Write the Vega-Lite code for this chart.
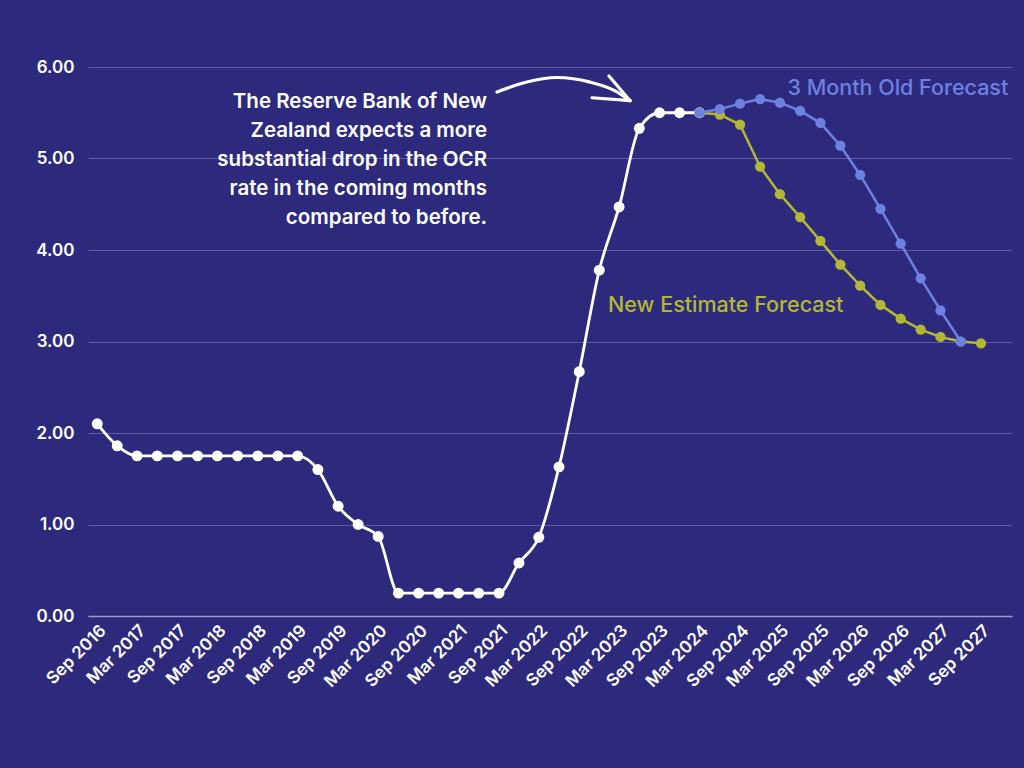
{
  "$schema": "https://vega.github.io/schema/vega-lite/v6.json",
  "width": 924,
  "height": 549,
  "autosize": "none",
  "padding": {"left": 88, "top": 67, "right": 12, "bottom": 152},
  "background": "#2d2a7e",
  "config": {
    "view": {"stroke": null},
    "font": "Inter",
    "text": {"font": "Inter"}
  },
  "datasets": {
    "ocr": [
      {"date": "2016-09-01", "value": 2.10, "series": "Actual"},
      {"date": "2016-12-01", "value": 1.86, "series": "Actual"},
      {"date": "2017-03-01", "value": 1.75, "series": "Actual"},
      {"date": "2017-06-01", "value": 1.75, "series": "Actual"},
      {"date": "2017-09-01", "value": 1.75, "series": "Actual"},
      {"date": "2017-12-01", "value": 1.75, "series": "Actual"},
      {"date": "2018-03-01", "value": 1.75, "series": "Actual"},
      {"date": "2018-06-01", "value": 1.75, "series": "Actual"},
      {"date": "2018-09-01", "value": 1.75, "series": "Actual"},
      {"date": "2018-12-01", "value": 1.75, "series": "Actual"},
      {"date": "2019-03-01", "value": 1.75, "series": "Actual"},
      {"date": "2019-06-01", "value": 1.60, "series": "Actual"},
      {"date": "2019-09-01", "value": 1.20, "series": "Actual"},
      {"date": "2019-12-01", "value": 1.00, "series": "Actual"},
      {"date": "2020-03-01", "value": 0.87, "series": "Actual"},
      {"date": "2020-06-01", "value": 0.25, "series": "Actual"},
      {"date": "2020-09-01", "value": 0.25, "series": "Actual"},
      {"date": "2020-12-01", "value": 0.25, "series": "Actual"},
      {"date": "2021-03-01", "value": 0.25, "series": "Actual"},
      {"date": "2021-06-01", "value": 0.25, "series": "Actual"},
      {"date": "2021-09-01", "value": 0.25, "series": "Actual"},
      {"date": "2021-12-01", "value": 0.58, "series": "Actual"},
      {"date": "2022-03-01", "value": 0.86, "series": "Actual"},
      {"date": "2022-06-01", "value": 1.63, "series": "Actual"},
      {"date": "2022-09-01", "value": 2.67, "series": "Actual"},
      {"date": "2022-12-01", "value": 3.78, "series": "Actual"},
      {"date": "2023-03-01", "value": 4.47, "series": "Actual"},
      {"date": "2023-06-01", "value": 5.33, "series": "Actual"},
      {"date": "2023-09-01", "value": 5.50, "series": "Actual"},
      {"date": "2023-12-01", "value": 5.50, "series": "Actual"},
      {"date": "2024-03-01", "value": 5.50, "series": "Actual"},
      {"date": "2024-03-01", "value": 5.50, "series": "New"},
      {"date": "2024-06-01", "value": 5.48, "series": "New"},
      {"date": "2024-09-01", "value": 5.37, "series": "New"},
      {"date": "2024-12-01", "value": 4.91, "series": "New"},
      {"date": "2025-03-01", "value": 4.61, "series": "New"},
      {"date": "2025-06-01", "value": 4.36, "series": "New"},
      {"date": "2025-09-01", "value": 4.10, "series": "New"},
      {"date": "2025-12-01", "value": 3.84, "series": "New"},
      {"date": "2026-03-01", "value": 3.61, "series": "New"},
      {"date": "2026-06-01", "value": 3.40, "series": "New"},
      {"date": "2026-09-01", "value": 3.25, "series": "New"},
      {"date": "2026-12-01", "value": 3.13, "series": "New"},
      {"date": "2027-03-01", "value": 3.05, "series": "New"},
      {"date": "2027-06-01", "value": 3.00, "series": "New"},
      {"date": "2027-09-01", "value": 2.98, "series": "New"},
      {"date": "2024-03-01", "value": 5.50, "series": "Old"},
      {"date": "2024-06-01", "value": 5.54, "series": "Old"},
      {"date": "2024-09-01", "value": 5.60, "series": "Old"},
      {"date": "2024-12-01", "value": 5.65, "series": "Old"},
      {"date": "2025-03-01", "value": 5.61, "series": "Old"},
      {"date": "2025-06-01", "value": 5.52, "series": "Old"},
      {"date": "2025-09-01", "value": 5.39, "series": "Old"},
      {"date": "2025-12-01", "value": 5.14, "series": "Old"},
      {"date": "2026-03-01", "value": 4.82, "series": "Old"},
      {"date": "2026-06-01", "value": 4.45, "series": "Old"},
      {"date": "2026-09-01", "value": 4.07, "series": "Old"},
      {"date": "2026-12-01", "value": 3.69, "series": "Old"},
      {"date": "2027-03-01", "value": 3.34, "series": "Old"},
      {"date": "2027-06-01", "value": 3.00, "series": "Old"}
    ],
    "arrow": [
      {"date": "2021-08-23", "value": 5.727, "seg": "c"},
      {"date": "2021-12-28", "value": 5.83, "seg": "c"},
      {"date": "2022-05-23", "value": 5.885, "seg": "c"},
      {"date": "2022-10-20", "value": 5.835, "seg": "c"},
      {"date": "2023-02-11", "value": 5.74, "seg": "c"},
      {"date": "2023-04-20", "value": 5.632, "seg": "c"},
      {"date": "2023-01-14", "value": 5.902, "seg": "b1"},
      {"date": "2023-04-20", "value": 5.632, "seg": "b1"},
      {"date": "2022-10-29", "value": 5.664, "seg": "b2"},
      {"date": "2023-04-20", "value": 5.632, "seg": "b2"}
    ],
    "labels": [
      {"date": "2028-01-03", "value": 5.69, "label": "3 Month Old Forecast", "series": "Old"},
      {"date": "2023-01-10", "value": 3.326, "label": "New Estimate Forecast", "series": "New"}
    ],
    "note": [
      {"date": "2021-07-09", "value": 5.552, "label": "The Reserve Bank of New\nZealand expects a more\nsubstantial drop in the OCR\nrate in the coming months\ncompared to before."}
    ]
  },
  "encoding": {
    "x": {
      "field": "date",
      "type": "temporal",
      "scale": {
        "type": "utc",
        "nice": false,
        "domain": [
          {"year": 2016, "month": "jul", "date": 21, "utc": true},
          {"year": 2028, "month": "jan", "date": 20, "utc": true}
        ]
      },
      "axis": {
        "title": null,
        "grid": false,
        "ticks": false,
        "domain": true,
        "domainColor": "#9d9ac8",
        "domainWidth": 1.5,
        "labelAngle": -45,
        "labelColor": "#ffffff",
        "labelFontSize": 17,
        "labelFontWeight": 600,
        "labelPadding": 6,
        "labelExpr": "utcFormat(datum.value, '%b %Y')",
        "labelOverlap": false,
        "values": [
          {"year": 2016, "month": "sep", "date": 1, "utc": true},
          {"year": 2017, "month": "mar", "date": 1, "utc": true},
          {"year": 2017, "month": "sep", "date": 1, "utc": true},
          {"year": 2018, "month": "mar", "date": 1, "utc": true},
          {"year": 2018, "month": "sep", "date": 1, "utc": true},
          {"year": 2019, "month": "mar", "date": 1, "utc": true},
          {"year": 2019, "month": "sep", "date": 1, "utc": true},
          {"year": 2020, "month": "mar", "date": 1, "utc": true},
          {"year": 2020, "month": "sep", "date": 1, "utc": true},
          {"year": 2021, "month": "mar", "date": 1, "utc": true},
          {"year": 2021, "month": "sep", "date": 1, "utc": true},
          {"year": 2022, "month": "mar", "date": 1, "utc": true},
          {"year": 2022, "month": "sep", "date": 1, "utc": true},
          {"year": 2023, "month": "mar", "date": 1, "utc": true},
          {"year": 2023, "month": "sep", "date": 1, "utc": true},
          {"year": 2024, "month": "mar", "date": 1, "utc": true},
          {"year": 2024, "month": "sep", "date": 1, "utc": true},
          {"year": 2025, "month": "mar", "date": 1, "utc": true},
          {"year": 2025, "month": "sep", "date": 1, "utc": true},
          {"year": 2026, "month": "mar", "date": 1, "utc": true},
          {"year": 2026, "month": "sep", "date": 1, "utc": true},
          {"year": 2027, "month": "mar", "date": 1, "utc": true},
          {"year": 2027, "month": "sep", "date": 1, "utc": true}
        ]
      }
    },
    "y": {
      "field": "value",
      "type": "quantitative",
      "scale": {"domain": [0, 6], "nice": false},
      "axis": {
        "title": null,
        "values": [0, 1, 2, 3, 4, 5, 6],
        "format": ".2f",
        "grid": true,
        "gridColor": "#5e5ba3",
        "gridWidth": 1.2,
        "domain": false,
        "ticks": false,
        "labelColor": "#ffffff",
        "labelFontSize": 17,
        "labelFontWeight": 600,
        "labelPadding": 14
      }
    }
  },
  "layer": [
    {
      "data": {"name": "ocr"},
      "transform": [{"filter": "datum.series === 'Actual'"}],
      "mark": {"type": "line", "color": "#ffffff", "strokeWidth": 2.8, "interpolate": "monotone"}
    },
    {
      "data": {"name": "ocr"},
      "transform": [{"filter": "datum.series === 'Actual'"}],
      "mark": {"type": "circle", "color": "#ffffff", "size": 120, "opacity": 1}
    },
    {
      "data": {"name": "ocr"},
      "transform": [{"filter": "datum.series === 'New'"}],
      "mark": {"type": "line", "color": "#b3b833", "strokeWidth": 2.5}
    },
    {
      "data": {"name": "ocr"},
      "transform": [{"filter": "datum.series === 'New'"}],
      "mark": {"type": "circle", "color": "#b3b833", "size": 105, "opacity": 1}
    },
    {
      "data": {"name": "ocr"},
      "transform": [{"filter": "datum.series === 'Old'"}],
      "mark": {"type": "line", "color": "#6d81e0", "strokeWidth": 2.5}
    },
    {
      "data": {"name": "ocr"},
      "transform": [{"filter": "datum.series === 'Old'"}],
      "mark": {"type": "circle", "color": "#6d81e0", "size": 105, "opacity": 1}
    },
    {
      "data": {"name": "arrow"},
      "mark": {"type": "line", "color": "#ffffff", "strokeWidth": 3.2, "strokeCap": "round", "interpolate": "monotone"},
      "encoding": {"detail": {"field": "seg", "type": "nominal"}}
    },
    {
      "data": {"name": "note"},
      "mark": {"type": "text", "align": "right", "baseline": "alphabetic", "lineBreak": "\n", "lineHeight": 29, "fontSize": 20.5, "fontWeight": 600, "color": "#ffffff"},
      "encoding": {"text": {"field": "label"}}
    },
    {
      "data": {"name": "labels"},
      "transform": [{"filter": "datum.series === 'Old'"}],
      "mark": {"type": "text", "align": "right", "baseline": "alphabetic", "fontSize": 21.5, "fontWeight": 500, "color": "#6d81e0"},
      "encoding": {"text": {"field": "label"}}
    },
    {
      "data": {"name": "labels"},
      "transform": [{"filter": "datum.series === 'New'"}],
      "mark": {"type": "text", "align": "left", "baseline": "alphabetic", "fontSize": 21.5, "fontWeight": 500, "color": "#b3b833"},
      "encoding": {"text": {"field": "label"}}
    }
  ]
}
